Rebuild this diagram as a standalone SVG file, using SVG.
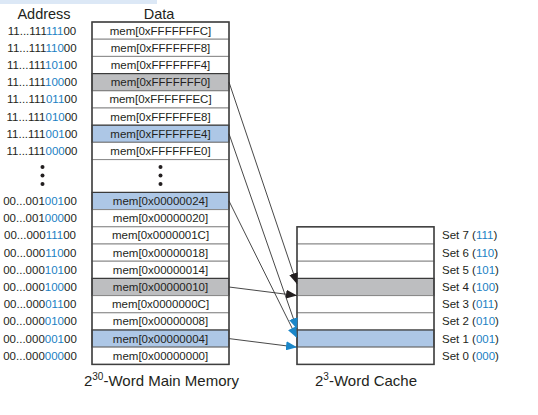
<svg xmlns="http://www.w3.org/2000/svg" width="538" height="415" viewBox="0 0 538 415">
<style>
text{font-family:"Liberation Sans",Arial,Helvetica,sans-serif;fill:#231f20}
.hdr{font-size:14.5px;text-anchor:middle}
.addr{font-size:11.5px;text-anchor:middle}
.mem{font-size:11.5px;text-anchor:middle}
.set{font-size:11.5px}
.cap{font-size:15px;text-anchor:middle}
.b{fill:#1a7fc4}
.cell{fill:#fff;stroke:#8a8a8a;stroke-width:1}
.gray{fill:#bdbec0;stroke:#3a3a3a;stroke-width:1.2}
.blue{fill:#adc7e6;stroke:#3a3a3a;stroke-width:1.2}
.frame{fill:none;stroke:#3f3f3f;stroke-width:1.5}
.dot{fill:#231f20}
.conn{stroke:#333;stroke-width:0.9;fill:none}
</style>
<defs>
<marker id="ahk" markerUnits="userSpaceOnUse" markerWidth="11" markerHeight="9" refX="11" refY="4.5" orient="auto"><path d="M0,0 L11,4.5 L0,9 z" fill="#231f20"/></marker>
<marker id="ahb" markerUnits="userSpaceOnUse" markerWidth="11" markerHeight="9" refX="11" refY="4.5" orient="auto"><path d="M0,0 L11,4.5 L0,9 z" fill="#1a86c8"/></marker>
</defs>
<rect x="0" y="0" width="157" height="4" fill="#dce8f6"/>
<text class="hdr" x="44" y="18.5">Address</text>
<text class="hdr" x="159" y="18.5">Data</text>

<g id="memory">
<g id="m-FFFFFFFC"><rect class="cell" x="92" y="22" width="137" height="17.2"/><text class="mem" x="160.5" y="34.6">mem[0xFFFFFFFC]</text></g>
<g id="m-FFFFFFF8"><rect class="cell" x="92" y="39.2" width="137" height="17.2"/><text class="mem" x="160.5" y="51.8">mem[0xFFFFFFF8]</text></g>
<g id="m-FFFFFFF4"><rect class="cell" x="92" y="56.4" width="137" height="17.2"/><text class="mem" x="160.5" y="69">mem[0xFFFFFFF4]</text></g>
<g id="m-FFFFFFF0"><rect class="gray" x="92" y="73.6" width="137" height="17.2"/><text class="mem" x="160.5" y="86.2">mem[0xFFFFFFF0]</text></g>
<g id="m-FFFFFFEC"><rect class="cell" x="92" y="90.8" width="137" height="17.2"/><text class="mem" x="160.5" y="103.4">mem[0xFFFFFFEC]</text></g>
<g id="m-FFFFFFE8"><rect class="cell" x="92" y="108" width="137" height="17.2"/><text class="mem" x="160.5" y="120.6">mem[0xFFFFFFE8]</text></g>
<g id="m-FFFFFFE4"><rect class="blue" x="92" y="125.2" width="137" height="17.2"/><text class="mem" x="160.5" y="137.8">mem[0xFFFFFFE4]</text></g>
<g id="m-FFFFFFE0"><rect class="cell" x="92" y="142.4" width="137" height="17.2"/><text class="mem" x="160.5" y="155">mem[0xFFFFFFE0]</text></g>
<g id="m-dots"><rect class="cell" x="92" y="159.6" width="137" height="32.8"/><circle class="dot" cx="160.5" cy="167" r="2"/><circle class="dot" cx="160.5" cy="175.5" r="2"/><circle class="dot" cx="160.5" cy="184" r="2"/></g>
<g id="m-00000024"><rect class="blue" x="92" y="192.4" width="137" height="17.2"/><text class="mem" x="160.5" y="205">mem[0x00000024]</text></g>
<g id="m-00000020"><rect class="cell" x="92" y="209.6" width="137" height="17.2"/><text class="mem" x="160.5" y="222.2">mem[0x00000020]</text></g>
<g id="m-0000001C"><rect class="cell" x="92" y="226.8" width="137" height="17.2"/><text class="mem" x="160.5" y="239.4">mem[0x0000001C]</text></g>
<g id="m-00000018"><rect class="cell" x="92" y="244" width="137" height="17.2"/><text class="mem" x="160.5" y="256.6">mem[0x00000018]</text></g>
<g id="m-00000014"><rect class="cell" x="92" y="261.2" width="137" height="17.2"/><text class="mem" x="160.5" y="273.8">mem[0x00000014]</text></g>
<g id="m-00000010"><rect class="gray" x="92" y="278.4" width="137" height="17.2"/><text class="mem" x="160.5" y="291">mem[0x00000010]</text></g>
<g id="m-0000000C"><rect class="cell" x="92" y="295.6" width="137" height="17.2"/><text class="mem" x="160.5" y="308.2">mem[0x0000000C]</text></g>
<g id="m-00000008"><rect class="cell" x="92" y="312.8" width="137" height="17.2"/><text class="mem" x="160.5" y="325.4">mem[0x00000008]</text></g>
<g id="m-00000004"><rect class="blue" x="92" y="330" width="137" height="17.2"/><text class="mem" x="160.5" y="342.6">mem[0x00000004]</text></g>
<g id="m-00000000"><rect class="cell" x="92" y="347.2" width="137" height="17.2"/><text class="mem" x="160.5" y="359.8">mem[0x00000000]</text></g>
<rect class="frame" x="92" y="22" width="137" height="342.4"/>
</g>

<g id="addresses">
<text class="addr" x="42" y="34.6">11...111<tspan class="b">111</tspan>00</text>
<text class="addr" x="42" y="51.8">11...111<tspan class="b">110</tspan>00</text>
<text class="addr" x="42" y="69">11...111<tspan class="b">101</tspan>00</text>
<text class="addr" x="42" y="86.2">11...111<tspan class="b">100</tspan>00</text>
<text class="addr" x="42" y="103.4">11...111<tspan class="b">011</tspan>00</text>
<text class="addr" x="42" y="120.6">11...111<tspan class="b">010</tspan>00</text>
<text class="addr" x="42" y="137.8">11...111<tspan class="b">001</tspan>00</text>
<text class="addr" x="42" y="155">11...111<tspan class="b">000</tspan>00</text>
<circle class="dot" cx="42.5" cy="167" r="2"/><circle class="dot" cx="42.5" cy="175.5" r="2"/><circle class="dot" cx="42.5" cy="184" r="2"/>
<text class="addr" x="40" y="205">00...001<tspan class="b">001</tspan>00</text>
<text class="addr" x="40" y="222.2">00...001<tspan class="b">000</tspan>00</text>
<text class="addr" x="40" y="239.4">00...000<tspan class="b">111</tspan>00</text>
<text class="addr" x="40" y="256.6">00...000<tspan class="b">110</tspan>00</text>
<text class="addr" x="40" y="273.8">00...000<tspan class="b">101</tspan>00</text>
<text class="addr" x="40" y="291">00...000<tspan class="b">100</tspan>00</text>
<text class="addr" x="40" y="308.2">00...000<tspan class="b">011</tspan>00</text>
<text class="addr" x="40" y="325.4">00...000<tspan class="b">010</tspan>00</text>
<text class="addr" x="40" y="342.6">00...000<tspan class="b">001</tspan>00</text>
<text class="addr" x="40" y="359.8">00...000<tspan class="b">000</tspan>00</text>
</g>

<g id="cache">
<g id="set7"><rect class="cell" x="297" y="226.8" width="137" height="17.2"/><text class="set" x="442" y="239.4">Set 7 (<tspan class="b">111</tspan>)</text></g>
<g id="set6"><rect class="cell" x="297" y="244" width="137" height="17.2"/><text class="set" x="442" y="256.6">Set 6 (<tspan class="b">110</tspan>)</text></g>
<g id="set5"><rect class="cell" x="297" y="261.2" width="137" height="17.2"/><text class="set" x="442" y="273.8">Set 5 (<tspan class="b">101</tspan>)</text></g>
<g id="set4"><rect class="gray" x="297" y="278.4" width="137" height="17.2"/><text class="set" x="442" y="291">Set 4 (<tspan class="b">100</tspan>)</text></g>
<g id="set3"><rect class="cell" x="297" y="295.6" width="137" height="17.2"/><text class="set" x="442" y="308.2">Set 3 (<tspan class="b">011</tspan>)</text></g>
<g id="set2"><rect class="cell" x="297" y="312.8" width="137" height="17.2"/><text class="set" x="442" y="325.4">Set 2 (<tspan class="b">010</tspan>)</text></g>
<g id="set1"><rect class="blue" x="297" y="330" width="137" height="17.2"/><text class="set" x="442" y="342.6">Set 1 (<tspan class="b">001</tspan>)</text></g>
<g id="set0"><rect class="cell" x="297" y="347.2" width="137" height="17.2"/><text class="set" x="442" y="359.8">Set 0 (<tspan class="b">000</tspan>)</text></g>
<rect class="frame" x="297" y="226.8" width="137" height="137.6"/>
</g>

<g id="connectors">
<line class="conn" x1="229" y1="82.2" x2="297" y2="284" marker-end="url(#ahk)"/>
<line class="conn" x1="229" y1="287" x2="297" y2="295.6" marker-end="url(#ahk)"/>
<line class="conn" x1="229" y1="133.8" x2="297" y2="329" marker-end="url(#ahb)"/>
<line class="conn" x1="229" y1="201" x2="297" y2="338" marker-end="url(#ahb)"/>
<line class="conn" x1="229" y1="338.6" x2="297" y2="347.2" marker-end="url(#ahb)"/>
</g>

<g id="captions">
<text class="cap" x="161.5" y="386">2<tspan font-size="10" dy="-6">30</tspan><tspan dy="6">-Word Main Memory</tspan></text>
<text class="cap" x="366" y="386">2<tspan font-size="10" dy="-6">3</tspan><tspan dy="6">-Word Cache</tspan></text>
</g>
</svg>
